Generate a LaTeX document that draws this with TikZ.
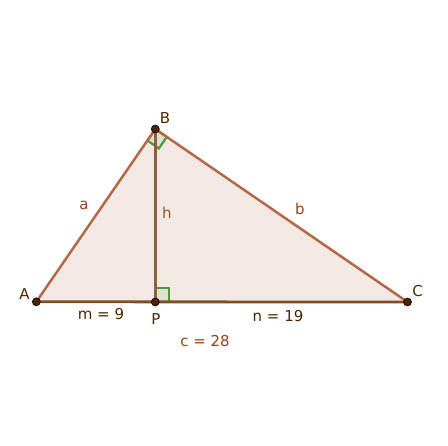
\documentclass[tikz,border=0pt]{standalone}
\usepackage{fontspec}
\setmainfont{DejaVu Sans}
\usetikzlibrary{calc}
\definecolor{trifill}{RGB}{242,233,229}
\definecolor{sideab}{RGB}{180,104,70}
\definecolor{basec}{RGB}{125,78,36}
\definecolor{hcol}{RGB}{140,98,58}
\definecolor{angg}{RGB}{76,153,60}
\definecolor{angfill}{RGB}{222,224,208}
\definecolor{txtdark}{RGB}{77,38,0}
\definecolor{txtorange}{RGB}{160,64,20}
\definecolor{txth}{RGB}{140,90,40}
\tikzset{
  pt/.style={circle,draw=black,fill=txtdark,line width=0.6pt,inner sep=0pt,minimum size=8pt},
  lbl/.style={font=\fontsize{15}{15}\selectfont,text=txtdark,inner sep=0pt},
  olbl/.style={font=\fontsize{15}{15}\selectfont,text=txtorange,inner sep=0pt},
  hlbl/.style={font=\fontsize{15}{15}\selectfont,text=txth,inner sep=0pt},
  sideline/.style={draw=sideab,line width=2.5pt},
  raMark/.style={draw=angg,fill=angfill,line width=2.2pt,line join=miter}
}
\begin{document}
\begin{tikzpicture}[x=1pt,y=-1pt]
\useasboundingbox (0,0) rectangle (448,446);
\coordinate (A) at (36.3,301.8);
\coordinate (B) at (155.3,129);
\coordinate (C) at (407.5,302);
\coordinate (P) at (155.3,302);
% fill
\fill[trifill] (A) -- (B) -- (C) -- cycle;
% right angle marks
\path[raMark] (P) -- ++(14,0) -- ++(0,-14) -- ++(-14,0) -- cycle;
\path[raMark] (B) -- ($(B)!14pt!(C)$) -- ($(B)!14pt!(C)+(B)!14pt!(A)-(B)$) -- ($(B)!14pt!(A)$) -- cycle;
% sides
\draw[sideline] (A) -- (B);
\draw[sideline] (B) -- (C);
\draw[draw=hcol,line width=2.5pt] (B) -- (P);
\draw[draw=basec,line width=2.8pt] (A) -- (C);
% points
\node[pt] (pA) at (A) {};
\node[pt] (pB) at (B) {};
\node[pt] (pC) at (C) {};
\node[pt] (pP) at (P) {};
% labels
\node[lbl] (lA) at (24.5,294.5) {A};
\node[lbl] (lB) at (165,118) {B};
\node[lbl] (lC) at (417.5,291.5) {C};
\node[lbl] (lP) at (156,319.5) {P};
\node[lbl] (lm) at (101,314) {m = 9};
\node[lbl] (ln) at (278,316) {n = 19};
\node[olbl] (lc) at (205,341.5) {c = 28};
\node[olbl] (la) at (84,205) {a};
\node[hlbl] (lh) at (167,213) {h};
\node[olbl] (lb) at (300,209) {b};
\end{tikzpicture}
\end{document}
